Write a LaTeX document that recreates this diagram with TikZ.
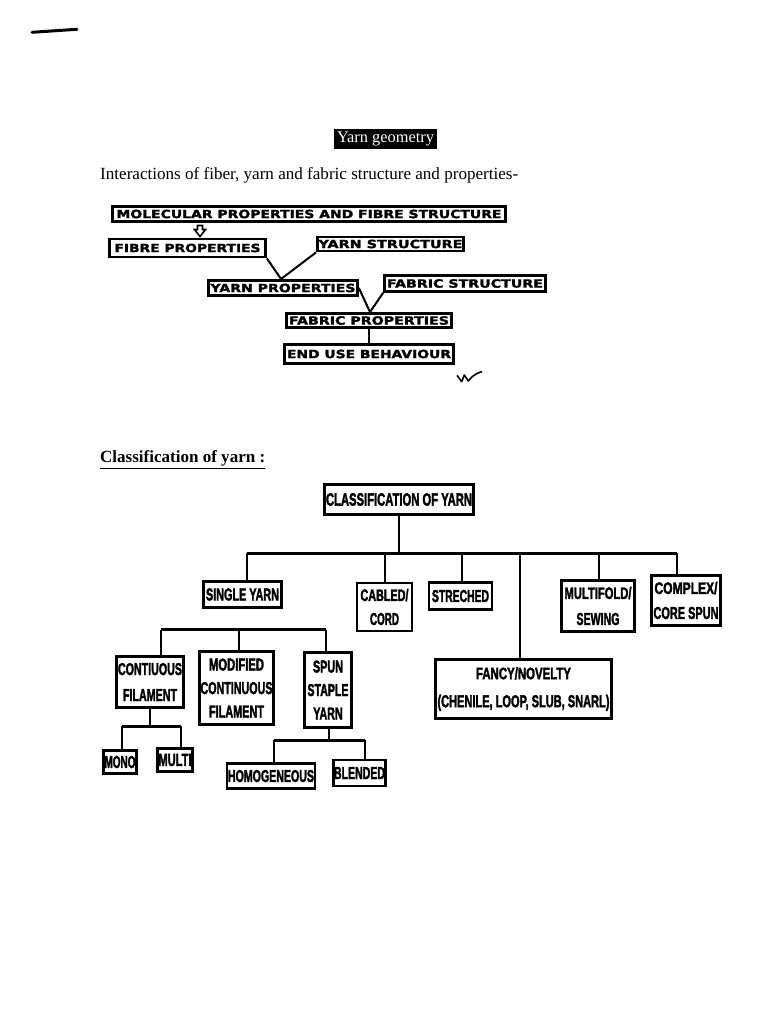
\documentclass[tikz,border=0pt]{standalone}
\usepackage{fontspec}
\usepackage{graphicx}
\setmainfont{Liberation Serif}
\newfontfamily\wideF{DejaVu Sans}[BoldFeatures={FakeBold=2}]
\newfontfamily\condF{Liberation Sans}[BoldFeatures={FakeBold=2.5}]
\newcommand\rz[3]{\resizebox{#1pt}{#2pt}{#3}}
\newcommand\tw[2]{\rz{#1}{8.4}{\wideF\bfseries #2}}
\newcommand\lw[2]{\rz{#1}{12}{\condF\bfseries #2}}
\tikzset{
  tbox/.style={draw, line width=2.8pt, inner sep=0pt},
  lbox/.style={draw, line width=2.8pt, inner sep=0pt, align=center},
  tline/.style={line width=2pt},
  busline/.style={line width=3pt},
  dropline/.style={line width=2pt},
  pitch/.style={font={\fontsize{12pt}{#1pt}\selectfont}},
}
\begin{document}
\begin{tikzpicture}[x=1pt,y=-1pt]
\fill[white] (0,0) rectangle (768,1024);
\useasboundingbox (0,0) rectangle (768,1024);

% scan marks
\draw[line width=3pt, line cap=round] (32,32.3) -- (77,29.3);
\draw[line width=1.6pt, line cap=round, line join=round]
  (457.3,375.7) -- (461.7,381.7) -- (464.3,375) -- (468.3,381)
  .. controls (472,376) and (477,373) .. (481.7,371.7);

% headings
\node[fill=black, text=white, inner sep=0pt, minimum width=103pt, minimum height=20pt] (title) at (385.5,139) {\resizebox{97pt}{!}{Yarn geometry}};
\node[anchor=base west, inner sep=0pt] (intro) at (100,180) {\resizebox{418pt}{!}{Interactions of fiber, yarn and fabric structure and properties-}};
\node[anchor=base west, inner sep=0pt] (classhead) at (100,462) {\resizebox{165pt}{!}{\bfseries\underline{Classification of yarn :}}};

% top flow
\node[tbox, minimum width=393pt, minimum height=15pt] (mol) at (309,214) {\tw{385}{MOLECULAR PROPERTIES AND FIBRE STRUCTURE}};
\node[tbox, minimum width=156pt, minimum height=18pt] (fp) at (187.5,248) {\tw{146}{FIBRE PROPERTIES}};
\node[tbox, minimum width=146pt, minimum height=14pt] (ys) at (390.5,244) {\tw{144}{YARN STRUCTURE}};
\node[tbox, minimum width=149pt, minimum height=15pt] (yp) at (283,288) {\tw{145}{YARN PROPERTIES}};
\node[tbox, minimum width=161pt, minimum height=16pt] (fs) at (465,283.5) {\tw{156}{FABRIC STRUCTURE}};
\node[tbox, minimum width=165pt, minimum height=14pt] (fabp) at (369,320.5) {\tw{160}{FABRIC PROPERTIES}};
\node[tbox, minimum width=169pt, minimum height=19pt] (eub) at (369,354) {\tw{164}{END USE BEHAVIOUR}};

% hollow arrow mol -> fp
\draw[line width=1.6pt, line join=miter]
  (197.5,225.5) -- (202.5,225.5) -- (202.5,229.5) -- (205.5,229.5) -- (200,236.5)
  -- (194.5,229.5) -- (197.5,229.5) -- cycle;

\coordinate (vyp) at (281,279);
\coordinate (vfab) at (370,312);
\draw[tline] (fp.south east) -- (vyp);
\draw[tline] (ys.south west) -- (vyp);
\draw[tline] (yp.east) -- (vfab);
\draw[tline] (fs.south west) -- (vfab);
\draw[tline] (fabp.south) -- (eub.north);

% classification tree
\node[lbox, minimum width=149pt, minimum height=30pt] (cls) at (399,499.5) {\rz{146}{12.5}{\condF\bfseries CLASSIFICATION OF YARN}};
\node[lbox, minimum width=78pt, minimum height=26pt] (sy) at (242.5,594.5) {\lw{73}{SINGLE YARN}};
\node[lbox, pitch=24, minimum width=55pt, minimum height=48pt] (cab) at (384.5,607) {\lw{48}{CABLED/}\\\lw{29}{CORD}};
\node[lbox, minimum width=63pt, minimum height=27pt] (str) at (460.5,596) {\lw{57}{STRECHED}};
\node[lbox, pitch=26, minimum width=73pt, minimum height=51pt] (mf) at (598,606) {\lw{67}{MULTIFOLD/}\\\lw{43}{SEWING}};
\node[lbox, pitch=25, minimum width=69pt, minimum height=50pt] (cx) at (686,600.5) {\lw{63}{COMPLEX/}\\\lw{65}{CORE SPUN}};
\node[lbox, pitch=26, minimum width=67pt, minimum height=51pt] (con) at (150,682) {\lw{64}{CONTIUOUS}\\\lw{54}{FILAMENT}};
\node[lbox, pitch=23.5, minimum width=74pt, minimum height=73pt] (mod) at (236.5,688) {\lw{55}{MODIFIED}\\\lw{72}{CONTINUOUS}\\\lw{55}{FILAMENT}};
\node[lbox, pitch=23.5, minimum width=47pt, minimum height=75pt] (spun) at (328,690) {\lw{30}{SPUN}\\\lw{41}{STAPLE}\\\lw{29.5}{YARN}};
\node[lbox, minimum width=33pt, minimum height=23pt] (mono) at (120,762) {\lw{31}{MONO}};
\node[lbox, minimum width=35pt, minimum height=23pt] (multi) at (175,760) {\lw{33}{MULTI}};
\node[lbox, minimum width=88pt, minimum height=25pt] (hom) at (271,776) {\lw{86}{HOMOGENEOUS}};
\node[lbox, minimum width=52pt, minimum height=26pt] (bld) at (359.5,773) {\lw{51}{BLENDED}};
\node[lbox, pitch=28, minimum width=176pt, minimum height=59pt] (fan) at (523.5,689) {\lw{95}{FANCY/NOVELTY}\\\rz{172}{12.5}{\condF\bfseries (CHENILE, LOOP, SLUB, SNARL)}};

% main bus
\coordinate (b1) at (247,553);
\coordinate (b2) at (385,553);
\coordinate (b3) at (462,553);
\coordinate (b4) at (520,553);
\coordinate (b5) at (599,553);
\coordinate (b6) at (677,553);
\draw[dropline] (cls.south) -- (cls.south |- b1);
\draw[busline] (b1) -- (b6);
\draw[dropline] (b1) -- (b1 |- sy.north);
\draw[dropline] (b2) -- (b2 |- cab.north);
\draw[dropline] (b3) -- (b3 |- str.north);
\draw[dropline] (b4) -- (b4 |- fan.north);
\draw[dropline] (b5) -- (b5 |- mf.north);
\draw[dropline] (b6) -- (b6 |- cx.north);

% single yarn children bus
\coordinate (s1) at (161,629.5);
\coordinate (s2) at (239,629.5);
\coordinate (s3) at (326,629.5);
\draw[busline] (s1) -- (s3);
\draw[dropline] (s1) -- (s1 |- con.north);
\draw[dropline] (s2) -- (s2 |- mod.north);
\draw[dropline] (s3) -- (s3 |- spun.north);

% continuous filament children
\coordinate (c0) at (150,726);
\coordinate (c1) at (122,726);
\coordinate (c2) at (181,726);
\draw[dropline] (con.south) -- (c0);
\draw[busline] (c1) -- (c2);
\draw[dropline] (c1) -- (c1 |- mono.north);
\draw[dropline] (c2) -- (c2 |- multi.north);

% spun staple children
\coordinate (p0) at (329,740);
\coordinate (p1) at (274,740);
\coordinate (p2) at (364.5,740);
\draw[dropline] (spun.south -| p0) -- (p0);
\draw[busline] (p1) -- (p2);
\draw[dropline] (p1) -- (p1 |- hom.north);
\draw[dropline] (p2) -- (p2 |- bld.north);
\end{tikzpicture}
\end{document}
